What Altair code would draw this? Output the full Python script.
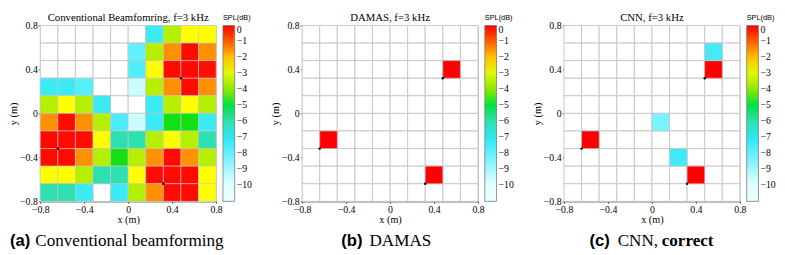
import altair as alt
import pandas as pd

# ---------------- data ----------------
x_left = [-0.8, -0.64, -0.48, -0.32, -0.16, 0.0, 0.16, 0.32, 0.48, 0.64]
row_bottom = [0.64, 0.48, 0.32, 0.16, 0.0, -0.16, -0.32, -0.48, -0.64, -0.8]  # rows listed top to bottom
cell_size = 0.16

# Conventional beamforming SPL (dB), rows top->bottom, None = below colour range (white)
conv_rows = [
    [None, None, None, None, None, None, -7.2, -3.5, -2.6, -2.6],
    [None, None, None, None, None, -8.0, -3.5, -1.5, -0.3, -1.5],
    [None, None, None, None, None, -7.6, -2.6, -0.3, -0.2, -0.4],
    [-7.2, -7.2, -7.7, None, None, -9.6, -3.5, -1.5, -0.3, -1.5],
    [-3.5, -2.6, -3.5, -7.2, None, None, -7.2, -3.5, -2.6, -3.5],
    [-1.5, -0.3, -1.5, -3.5, -7.5, -9.6, -7.2, -4.8, -4.8, -7.2],
    [-0.2, -0.3, -0.3, -2.6, -6.0, -6.0, -3.5, -2.6, -3.5, -6.0],
    [-0.3, -0.3, -1.5, -3.5, -4.8, -3.5, -1.5, -0.3, -1.5, -3.5],
    [-2.6, -2.6, -3.5, -6.0, -6.0, -2.6, -0.3, -0.3, -0.3, -2.6],
    [-6.0, -6.0, -7.2, None, -7.2, -3.5, -1.5, -0.3, -0.3, -2.6],
]

damas_x = [-0.64, 0.48, 0.32]
damas_y = [-0.32, 0.32, -0.64]
damas_v = [0.0, 0.0, 0.0]

cnn_x = [-0.64, 0.48, 0.32, 0.48, 0.0, 0.16]
cnn_y = [-0.32, 0.32, -0.64, 0.48, -0.16, -0.48]
cnn_v = [0.0, 0.0, 0.0, -7.4, -8.3, -7.3]

src_x = [-0.64, 0.48, 0.32]
src_y = [-0.32, 0.32, -0.64]

titles = ["Conventional Beamfomring, f=3 kHz", "DAMAS, f=3 kHz", "CNN, f=3 kHz"]
axis_ticks = [-0.8, -0.4, 0, 0.4, 0.8]
cbar_ticks = [0, -1, -2, -3, -4, -5, -6, -7, -8, -9, -10]
cmap_domain = [-11, -10, -9, -8, -7, -6, -4.8, -3.5, -2.6, -1.5, -0.6, 0]
cmap_range = ["#ffffff", "#e4ffff", "#a6f8ff", "#62f0ff", "#2ce8f2", "#2ee0b0",
              "#12e012", "#b4f000", "#ffff00", "#ff9000", "#ff1400", "#ff0000"]

# ---------------- tables ----------------
grid_df = pd.DataFrame([(x, y) for y in row_bottom for x in x_left], columns=["x", "y"])
grid_df["x2"] = grid_df["x"] + cell_size
grid_df["y2"] = grid_df["y"] + cell_size

conv_df = pd.DataFrame(
    [(x_left[j], row_bottom[i], v) for i, row in enumerate(conv_rows) for j, v in enumerate(row) if v is not None],
    columns=["x", "y", "v"])
damas_df = pd.DataFrame({"x": damas_x, "y": damas_y, "v": damas_v})
cnn_df = pd.DataFrame({"x": cnn_x, "y": cnn_y, "v": cnn_v})
for d in (conv_df, damas_df, cnn_df):
    d["x2"] = d["x"] + cell_size
    d["y2"] = d["y"] + cell_size
src_df = pd.DataFrame({"x": src_x, "y": src_y})

SERIF = "Liberation Serif, 'Times New Roman', Times, 'DejaVu Serif', serif"
SANS = "Liberation Sans, Arial, Helvetica, 'DejaVu Sans', sans-serif"
W = 180
H = 180

xscale = alt.Scale(domain=[-0.8, 0.8], nice=False, zero=False)
yscale = alt.Scale(domain=[-0.8, 0.8], nice=False, zero=False)
axis_common = dict(values=axis_ticks, format=".1~f", grid=False,
                   labelFont=SERIF, labelFontSize=10, titleFont=SERIF, titleFontSize=10.5,
                   titleFontWeight="normal", labelColor="black", titleColor="black",
                   domainColor="#555", tickColor="#555", tickSize=2, labelPadding=1,
                   titlePadding=1, labelFlush=False)
xaxis = alt.Axis(title="x (m)", **axis_common)
yaxis = alt.Axis(title="y (m)", **axis_common)

cscale = alt.Scale(domain=cmap_domain, range=cmap_range, clamp=True)


def make_legend():
    return alt.Legend(orient="none", legendX=W + 7, legendY=-12, title="SPL(dB)",
                      titleFont=SANS, titleFontSize=7.5, titleFontWeight="normal",
                      titleColor="black", titlePadding=4.5, gradientLength=H,
                      gradientThickness=12, values=cbar_ticks, labelFont=SERIF,
                      labelFontSize=10, labelOffset=2, labelColor="black",
                      gradientStrokeColor="#777", gradientStrokeWidth=0.8,
                      direction="vertical", labelOverlap=False)


def text_layer(txt, xpos, ypos, font, weight, size, align="left"):
    return alt.Chart(src_df.head(1)).mark_text(
        font=font, fontWeight=weight, fontSize=size, align=align,
        baseline="alphabetic", color="black"
    ).encode(x=alt.value(xpos), y=alt.value(ypos), text=alt.value(txt))


def panel(df, title, cap_parts):
    grid = alt.Chart(grid_df).mark_rect(fill="white", stroke="#c8c8c8", strokeWidth=1).encode(
        x=alt.X("x:Q", scale=xscale, axis=xaxis),
        x2="x2:Q",
        y=alt.Y("y:Q", scale=yscale, axis=yaxis),
        y2="y2:Q",
    )
    heat = alt.Chart(df).mark_rect(stroke="#c8c8c8", strokeWidth=0.6).encode(
        x="x:Q", x2="x2:Q", y="y:Q", y2="y2:Q",
        color=alt.Color("v:Q", scale=cscale, legend=make_legend()),
    )
    dots = alt.Chart(src_df).mark_point(filled=True, color="black", size=6, opacity=1).encode(
        x="x:Q", y="y:Q")
    ttl = text_layer(title, W / 2, -5, SERIF, "normal", 11, align="center")
    caps = [text_layer(t, xp, H + 46, f, wgt, s) for t, xp, f, wgt, s in cap_parts]
    return alt.layer(grid, heat, dots, ttl, *caps).properties(width=W, height=H)


p1 = panel(conv_df, titles[0], [("(a)", -31, SANS, "bold", 17), ("Conventional beamforming", -5, SERIF, "normal", 17.5)])
p2 = panel(damas_df, titles[1], [("(b)", 40, SANS, "bold", 17), ("DAMAS", 69, SERIF, "normal", 17.5)])
p3 = panel(cnn_df, titles[2], [("(c)", 26, SANS, "bold", 17), ("CNN,", 55, SERIF, "normal", 17.5),
                               ("correct", 100, SERIF, "bold", 17.5)])

chart = alt.hconcat(p1, p2, p3, spacing=17).resolve_scale(color="independent").resolve_legend(
    color="independent").properties(padding={"left": 0, "top": 0, "right": 0, "bottom": 0}).configure_view(
    stroke="#c8c8c8")

chart.save("out.html", embed_options={"renderer": "svg", "actions": False})
